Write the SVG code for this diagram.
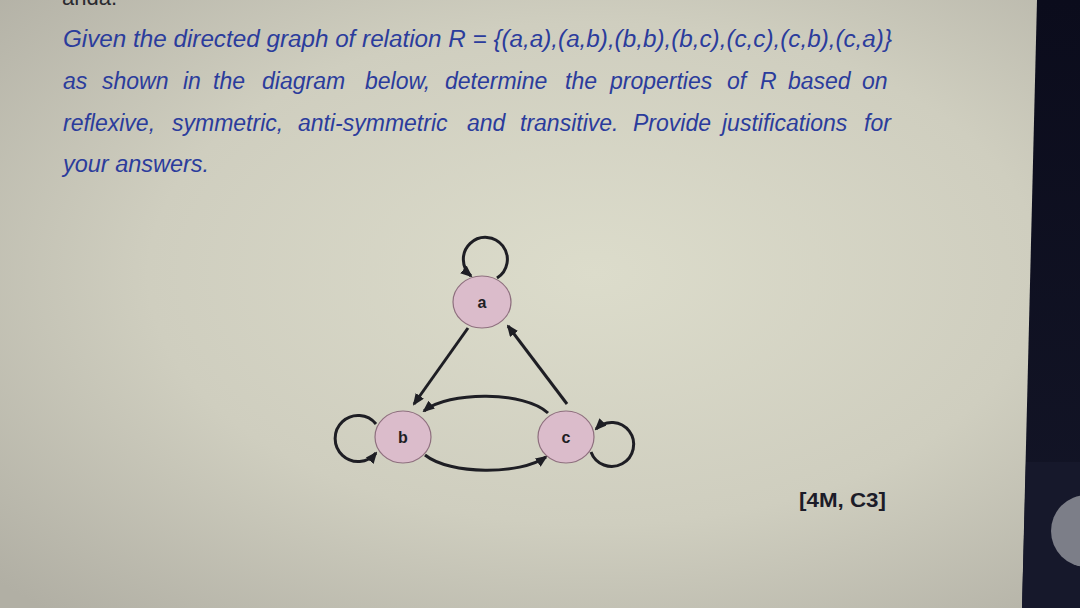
<svg xmlns="http://www.w3.org/2000/svg" width="1080" height="608" viewBox="0 0 1080 608">
<defs>
<radialGradient id="bg" cx="0.55" cy="0.45" r="0.75">
<stop offset="0" stop-color="#dcdccb"/>
<stop offset="0.55" stop-color="#cfcebf"/>
<stop offset="1" stop-color="#b1afa4"/>
</radialGradient>
<linearGradient id="strip" x1="0" y1="0" x2="0" y2="1">
<stop offset="0" stop-color="#0b0c1c"/>
<stop offset="1" stop-color="#141628"/>
</linearGradient>
<marker id="arr" markerUnits="userSpaceOnUse" markerWidth="12" markerHeight="10" refX="10" refY="5" orient="auto">
<path d="M0,0 L12,5 L0,10 z" fill="#1e1e24"/>
</marker>
<style>
.q{font-family:"Liberation Sans",Arial,sans-serif;font-style:italic;font-size:23px;fill:#2b3c9c}
.node ellipse{fill:#dbbccb;stroke:#8e6f7e;stroke-width:1.2}
.node text{font-family:"Liberation Sans",Arial,sans-serif;font-weight:bold;font-size:16px;fill:#1e1e24;text-anchor:middle}
.edge{fill:none;stroke:#1e1e24;stroke-width:3;marker-end:url(#arr)}
</style>
</defs>
<rect width="1080" height="608" fill="url(#bg)"/>
<polygon points="1037,0 1080,0 1080,608 1022,608" fill="url(#strip)"/>
<polygon points="1026,462 1080,462 1080,608 1022,608" fill="#16182b"/>
<circle cx="1087" cy="531" r="36" fill="#7c7e88"/>
<text x="62" y="5" style="font-family:'Liberation Sans',Arial,sans-serif;font-size:22px;fill:#2a2a30">anda.</text>
<g id="question">
<text class="q" x="63" y="47" textLength="829" lengthAdjust="spacingAndGlyphs">Given the directed graph of relation R = {(a,a),(a,b),(b,b),(b,c),(c,c),(c,b),(c,a)}</text>
<text class="q" y="89"><tspan x="63">as</tspan><tspan x="102">shown</tspan><tspan x="183">in</tspan><tspan x="213">the</tspan><tspan x="262">diagram</tspan><tspan x="365">below,</tspan><tspan x="445">determine</tspan><tspan x="565">the</tspan><tspan x="610">properties</tspan><tspan x="727">of</tspan><tspan x="760">R</tspan><tspan x="788">based</tspan><tspan x="862">on</tspan></text>
<text class="q" y="131"><tspan x="63">reflexive,</tspan><tspan x="172">symmetric,</tspan><tspan x="298">anti-symmetric</tspan><tspan x="467">and</tspan><tspan x="520">transitive.</tspan><tspan x="633">Provide</tspan><tspan x="722">justifications</tspan><tspan x="864">for</tspan></text>
<text class="q" x="63" y="172" textLength="146" lengthAdjust="spacingAndGlyphs">your answers.</text>
</g>
<g id="connectors">
<path class="edge" d="M497,278 A22,22 0 1 0 471,276"/>
<path class="edge" d="M376,424 A23,23 0 1 0 376,453"/>
<path class="edge" d="M591,452 A22,22 0 1 0 596,429"/>
<path class="edge" d="M468,328 L414,404"/>
<path class="edge" d="M567,404 L508,326"/>
<path class="edge" d="M548,413 C525,391 448,391 424,411"/>
<path class="edge" d="M425,455 C450,475 520,475 546,457"/>
</g>
<g id="node-a" class="node"><ellipse cx="482" cy="302" rx="29" ry="26"/><text x="482" y="308">a</text></g>
<g id="node-b" class="node"><ellipse cx="403" cy="437" rx="28" ry="26"/><text x="403" y="443">b</text></g>
<g id="node-c" class="node"><ellipse cx="566" cy="437" rx="28" ry="26"/><text x="566" y="443">c</text></g>
<text x="799" y="507" textLength="87" lengthAdjust="spacingAndGlyphs" style="font-family:'Liberation Sans',Arial,sans-serif;font-weight:bold;font-size:20px;fill:#1c1c28">[4M, C3]</text>
</svg>
